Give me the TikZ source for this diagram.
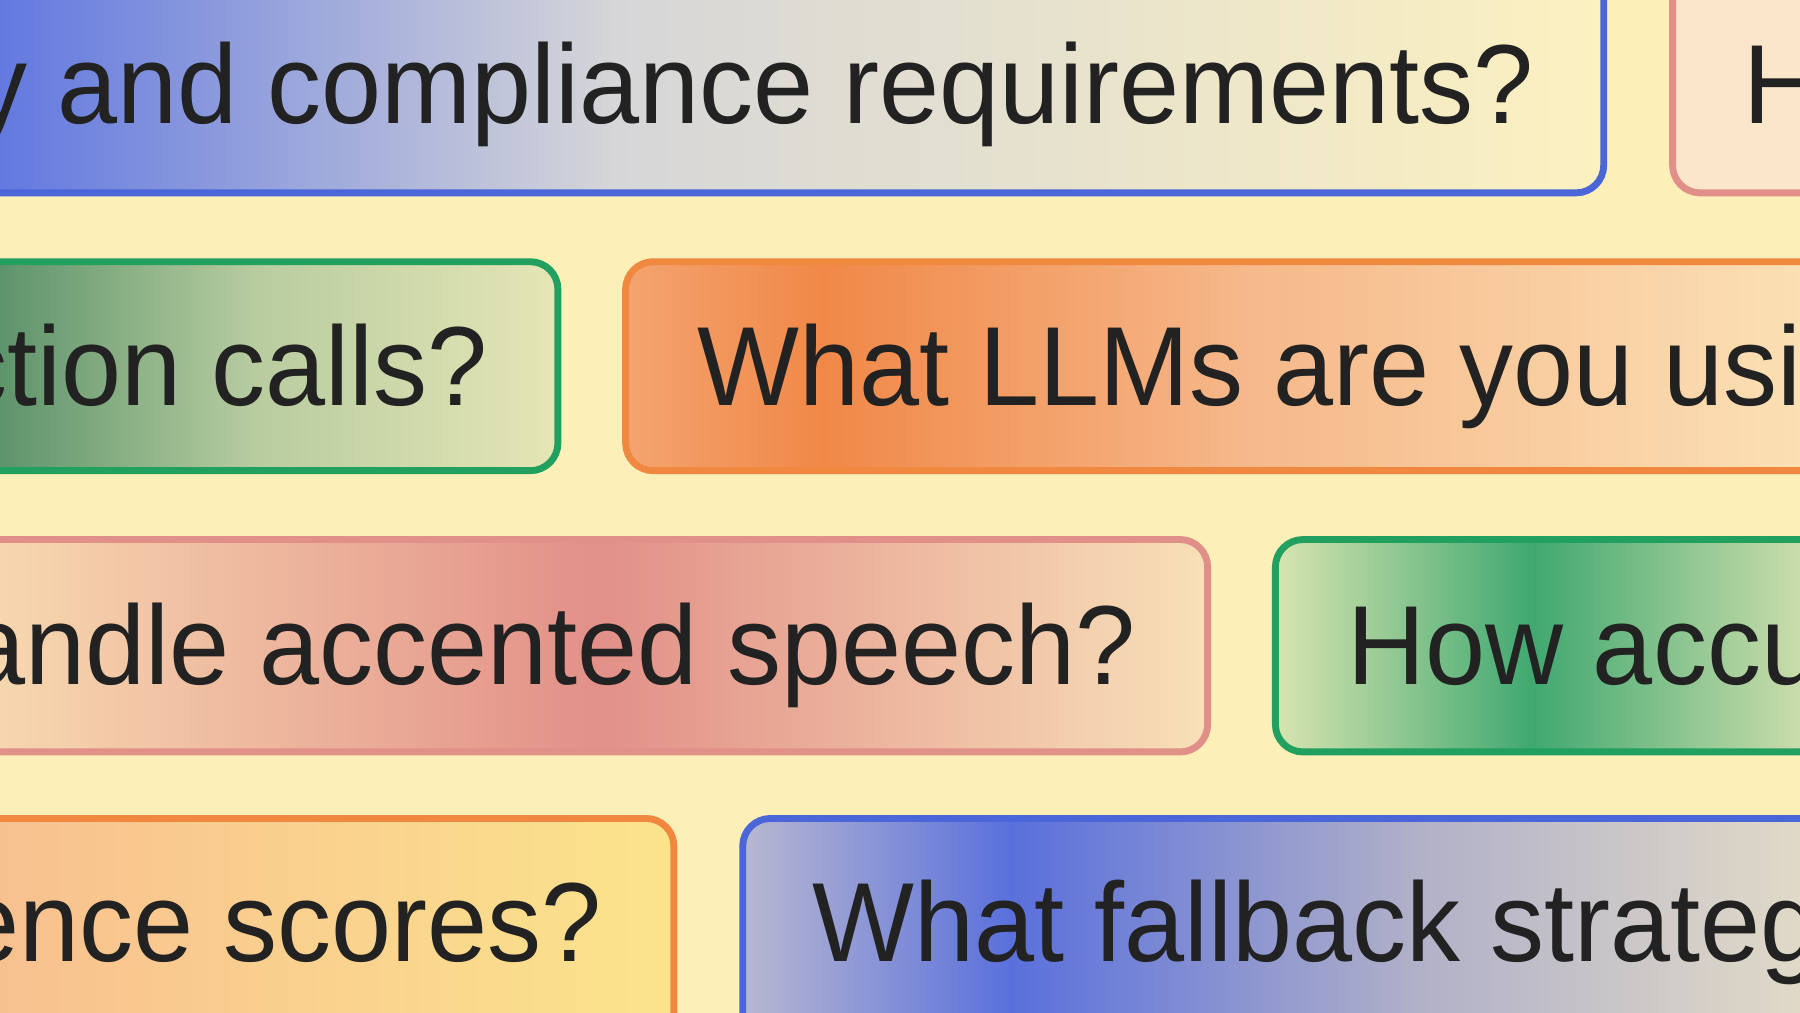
\documentclass[tikz,border=0pt]{standalone}
\usepackage{fontspec}
\setmainfont[FakeStretch=0.96]{Liberation Sans}
\definecolor{bg}{HTML}{FCEFB8}
\definecolor{txt}{HTML}{222222}
\definecolor{bB}{HTML}{4A66D8}
\definecolor{bG}{HTML}{22A060}
\definecolor{bO}{HTML}{F08840}
\definecolor{bP}{HTML}{E09088}
\definecolor{aA}{HTML}{5A72E0}\definecolor{aB}{HTML}{D6D6D8}\definecolor{aC}{HTML}{FCF1C0}
\definecolor{bbA}{HTML}{FAE6C8}
\definecolor{cA}{HTML}{4E8A62}\definecolor{cB}{HTML}{B8CCA0}\definecolor{cC}{HTML}{E6E6B6}
\definecolor{dA}{HTML}{F4A470}\definecolor{dB}{HTML}{F08848}\definecolor{dC}{HTML}{F6B88A}\definecolor{dD}{HTML}{FBE4B8}
\definecolor{eA}{HTML}{F8DCB2}\definecolor{eB}{HTML}{E29088}\definecolor{eC}{HTML}{F8E0B8}
\definecolor{fA}{HTML}{D8E4B0}\definecolor{fB}{HTML}{40A870}\definecolor{fC}{HTML}{E8E8B8}
\definecolor{gA}{HTML}{F8BE90}\definecolor{gB}{HTML}{FBE48C}
\definecolor{hA}{HTML}{B8B8D0}\definecolor{hB}{HTML}{5A70DC}\definecolor{hC}{HTML}{B0B0C8}\definecolor{hD}{HTML}{E8E0C8}
\pgfdeclarehorizontalshading{shA}{100bp}{color(0bp)=(aA);color(25bp)=(aA);color(45bp)=(aB);color(75bp)=(aC);color(100bp)=(aC)}
\pgfdeclarehorizontalshading{shB}{100bp}{color(0bp)=(bbA);color(100bp)=(bbA)}
\pgfdeclarehorizontalshading{shC}{100bp}{color(0bp)=(cA);color(25bp)=(cA);color(50bp)=(cB);color(75bp)=(cC);color(100bp)=(cC)}
\pgfdeclarehorizontalshading{shD}{100bp}{color(0bp)=(dA);color(25bp)=(dA);color(33bp)=(dB);color(50bp)=(dC);color(75bp)=(dD);color(100bp)=(dD)}
\pgfdeclarehorizontalshading{shE}{100bp}{color(0bp)=(eA);color(25bp)=(eA);color(50.7bp)=(eB);color(75bp)=(eC);color(100bp)=(eC)}
\pgfdeclarehorizontalshading{shF}{100bp}{color(0bp)=(fA);color(25bp)=(fA);color(47bp)=(fB);color(75bp)=(fC);color(100bp)=(fC)}
\pgfdeclarehorizontalshading{shG}{100bp}{color(0bp)=(gA);color(25bp)=(gA);color(75bp)=(gB);color(100bp)=(gB)}
\pgfdeclarehorizontalshading{shH}{100bp}{color(0bp)=(hA);color(25bp)=(hA);color(37bp)=(hB);color(55bp)=(hC);color(75bp)=(hD);color(100bp)=(hD)}
\tikzset{
  qbox/.style={rounded corners=12pt, line width=3pt},
  qtext/.style={font=\fontsize{49}{55}\selectfont, text=txt, inner sep=0pt}
}
\begin{document}
\begin{tikzpicture}[x=0.5pt,y=-0.5pt]
\useasboundingbox (0,0) rectangle (1568,882);
\clip (0,0) rectangle (1568,882);
\fill[bg] (0,0) rectangle (1568,882);
% row 1
\draw[qbox, bB, shading=shA] (-40,-30) rectangle (1397,168);
\node[qtext, anchor=base east] (t1) at (1337,108) {y and compliance requirements?};
\draw[qbox, bP, shading=shB] (1457,-30) rectangle (1620,168);
\node[qtext, anchor=base west] (t2) at (1518,108) {H};
% row 2
\draw[qbox, bG, shading=shC] (-40,228) rectangle (486,410);
\node[qtext, anchor=base east] (t3) at (425,353) {ction calls?};
\draw[qbox, bO, shading=shD] (545,228) rectangle (1620,410);
\node[qtext, anchor=base west] (t4) at (607,353) {What LLMs are you using?};
% row 3
\draw[qbox, bP, shading=shE] (-40,470) rectangle (1052,655);
\node[qtext, anchor=base east] (t5) at (990,596) {andle accented speech?};
\draw[qbox, bG, shading=shF] (1111,470) rectangle (1620,655);
\node[qtext, anchor=base west] (t6) at (1173,596) {How accurate};
% row 4
\draw[qbox, bO, shading=shG] (-40,713) rectangle (587,920);
\node[qtext, anchor=base east] (t7) at (525,838) {ence scores?};
\draw[qbox, bB, shading=shH] (647,713) rectangle (1620,920);
\node[qtext, anchor=base west] (t8) at (707,838) {What fallback strategy};
\end{tikzpicture}
\end{document}
